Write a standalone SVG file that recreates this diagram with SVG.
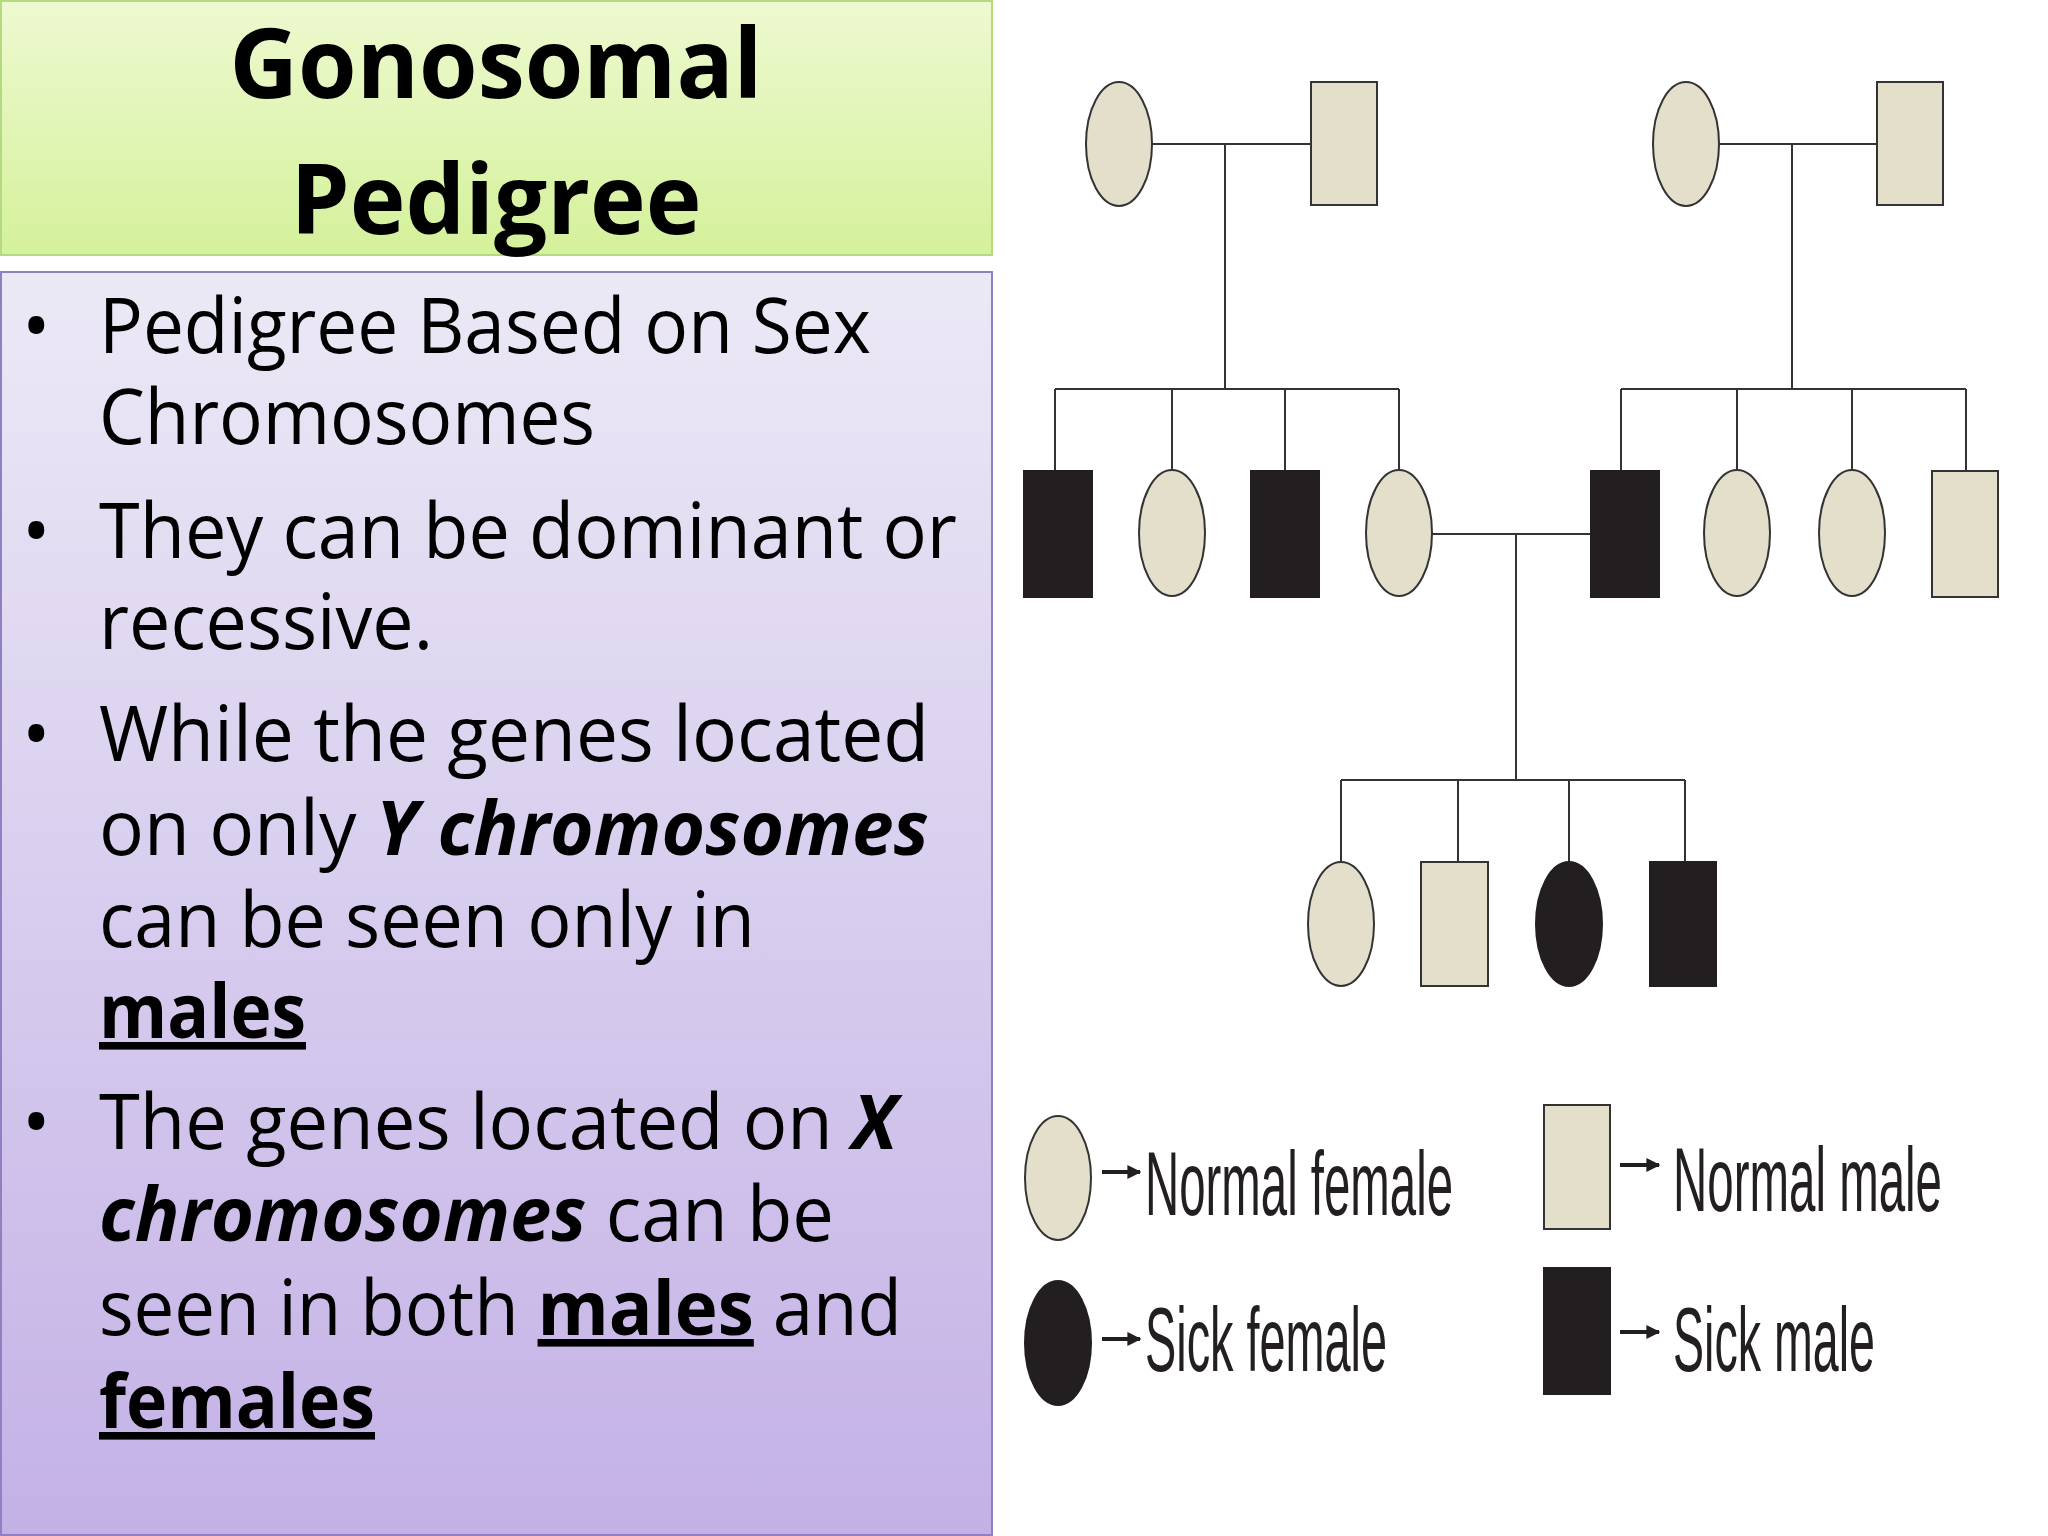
<svg xmlns="http://www.w3.org/2000/svg" width="2048" height="1536" viewBox="0 0 2048 1536">
<defs>
<linearGradient id="gg" x1="0" y1="0" x2="0" y2="1"><stop offset="0" stop-color="#eef9d0"/><stop offset="1" stop-color="#d4f19a"/></linearGradient>
<linearGradient id="pg" x1="0" y1="0" x2="0" y2="1"><stop offset="0" stop-color="#ece9f6"/><stop offset="1" stop-color="#c3b1e6"/></linearGradient>
<marker id="ar" viewBox="0 0 10 10" refX="9" refY="5" markerWidth="3.5" markerHeight="3.5" orient="auto"><path d="M0,0 L10,5 L0,10 z" fill="#231f20"/></marker>
</defs>
<style>
.l{fill:#e3dfcb;stroke:#333;stroke-width:2}
.d{fill:#231f20;stroke:#231f20;stroke-width:2}
.c{stroke:#333;stroke-width:2;fill:none}
.a{stroke:#231f20;stroke-width:4;fill:none}
.t{font-family:"Open Sans","Liberation Sans",sans-serif;font-size:76px;fill:#000}
.lg{font-family:"Liberation Sans",sans-serif;font-size:90px;fill:#231f20}
</style>
<rect width="2048" height="1536" fill="#fff"/>
<g id="title">
<rect x="1" y="1" width="991" height="254" fill="url(#gg)" stroke="#b5d980" stroke-width="2"/>
<text x="496" y="98" text-anchor="middle" font-family="Open Sans, Liberation Sans, sans-serif" font-weight="bold" font-size="96" textLength="533" lengthAdjust="spacingAndGlyphs">Gonosomal</text>
<text x="496" y="234" text-anchor="middle" font-family="Open Sans, Liberation Sans, sans-serif" font-weight="bold" font-size="96" textLength="411" lengthAdjust="spacingAndGlyphs">Pedigree</text>
</g>
<g id="content">
<rect x="1" y="272" width="991" height="1263" fill="url(#pg)" stroke="#8f80c2" stroke-width="2"/>
<g class="t">
<text x="22" y="353">•</text><text x="22" y="558">•</text><text x="22" y="761">•</text><text x="22" y="1149">•</text>
<text x="99" y="353" textLength="772" lengthAdjust="spacingAndGlyphs">Pedigree Based on Sex</text>
<text x="99" y="444" textLength="496" lengthAdjust="spacingAndGlyphs">Chromosomes</text>
<text x="99" y="558" textLength="858" lengthAdjust="spacingAndGlyphs">They can be dominant or</text>
<text x="99" y="649" textLength="334" lengthAdjust="spacingAndGlyphs">recessive.</text>
<text x="99" y="761" textLength="830" lengthAdjust="spacingAndGlyphs">While the genes located</text>
<text x="99" y="855" textLength="830" lengthAdjust="spacingAndGlyphs">on only <tspan font-weight="bold" font-style="italic">Y chromosomes</tspan></text>
<text x="99" y="947" textLength="656" lengthAdjust="spacingAndGlyphs">can be seen only in</text>
<text x="99" y="1038" font-weight="bold" text-decoration="underline" textLength="207" lengthAdjust="spacingAndGlyphs">males</text>
<text x="99" y="1149" textLength="798" lengthAdjust="spacingAndGlyphs">The genes located on <tspan font-weight="bold" font-style="italic">X</tspan></text>
<text x="99" y="1241" textLength="735" lengthAdjust="spacingAndGlyphs"><tspan font-weight="bold" font-style="italic">chromosomes</tspan> can be</text>
<text x="99" y="1335" textLength="803" lengthAdjust="spacingAndGlyphs">seen in both <tspan font-weight="bold" text-decoration="underline">males</tspan> and</text>
<text x="99" y="1428" font-weight="bold" text-decoration="underline" textLength="276" lengthAdjust="spacingAndGlyphs">females</text>
</g>
</g>
<g id="connectors">
<path class="c" d="M1152,144 H1311 M1225,144 V389 M1055,389 H1399 M1055,389 V470 M1172,389 V470 M1285,389 V470 M1399,389 V470"/>
<path class="c" d="M1719,144 H1877 M1792,144 V389 M1621,389 H1966 M1621,389 V470 M1737,389 V470 M1852,389 V470 M1966,389 V470"/>
<path class="c" d="M1432,534 H1591 M1516,534 V780 M1341,780 H1685 M1341,780 V862 M1458,780 V862 M1569,780 V862 M1685,780 V862"/>
<path class="a" d="M1102,1172 H1140" marker-end="url(#ar)"/>
<path class="a" d="M1102,1339 H1140" marker-end="url(#ar)"/>
<path class="a" d="M1620,1165 H1659" marker-end="url(#ar)"/>
<path class="a" d="M1620,1332 H1659" marker-end="url(#ar)"/>
</g>
<g id="gen1">
<ellipse id="f1" class="l" cx="1119" cy="144" rx="33" ry="62"/>
<rect id="m1" class="l" x="1311" y="82" width="66" height="123"/>
<ellipse id="f2" class="l" cx="1686" cy="144" rx="33" ry="62"/>
<rect id="m2" class="l" x="1877" y="82" width="66" height="123"/>
</g>
<g id="gen2">
<rect class="d" x="1024" y="471" width="68" height="126"/>
<ellipse class="l" cx="1172" cy="533" rx="33" ry="63"/>
<rect class="d" x="1251" y="471" width="68" height="126"/>
<ellipse class="l" cx="1399" cy="533" rx="33" ry="63"/>
<rect class="d" x="1591" y="471" width="68" height="126"/>
<ellipse class="l" cx="1737" cy="533" rx="33" ry="63"/>
<ellipse class="l" cx="1852" cy="533" rx="33" ry="63"/>
<rect class="l" x="1932" y="471" width="66" height="126"/>
</g>
<g id="gen3">
<ellipse class="l" cx="1341" cy="924" rx="33" ry="62"/>
<rect class="l" x="1421" y="862" width="67" height="124"/>
<ellipse class="d" cx="1569" cy="924" rx="33" ry="62"/>
<rect class="d" x="1650" y="862" width="66" height="124"/>
</g>
<g id="legend">
<ellipse class="l" cx="1058" cy="1178" rx="33" ry="62"/>
<text class="lg" x="1145" y="1215" textLength="308" lengthAdjust="spacingAndGlyphs">Normal female</text>
<ellipse class="d" cx="1058" cy="1343" rx="33" ry="62"/>
<text class="lg" x="1145" y="1371" textLength="242" lengthAdjust="spacingAndGlyphs">Sick female</text>
<rect class="l" x="1544" y="1105" width="66" height="124"/>
<text class="lg" x="1673" y="1211" textLength="269" lengthAdjust="spacingAndGlyphs">Normal male</text>
<rect class="d" x="1544" y="1268" width="66" height="126"/>
<text class="lg" x="1673" y="1371" textLength="202" lengthAdjust="spacingAndGlyphs">Sick male</text>
</g>
</svg>
